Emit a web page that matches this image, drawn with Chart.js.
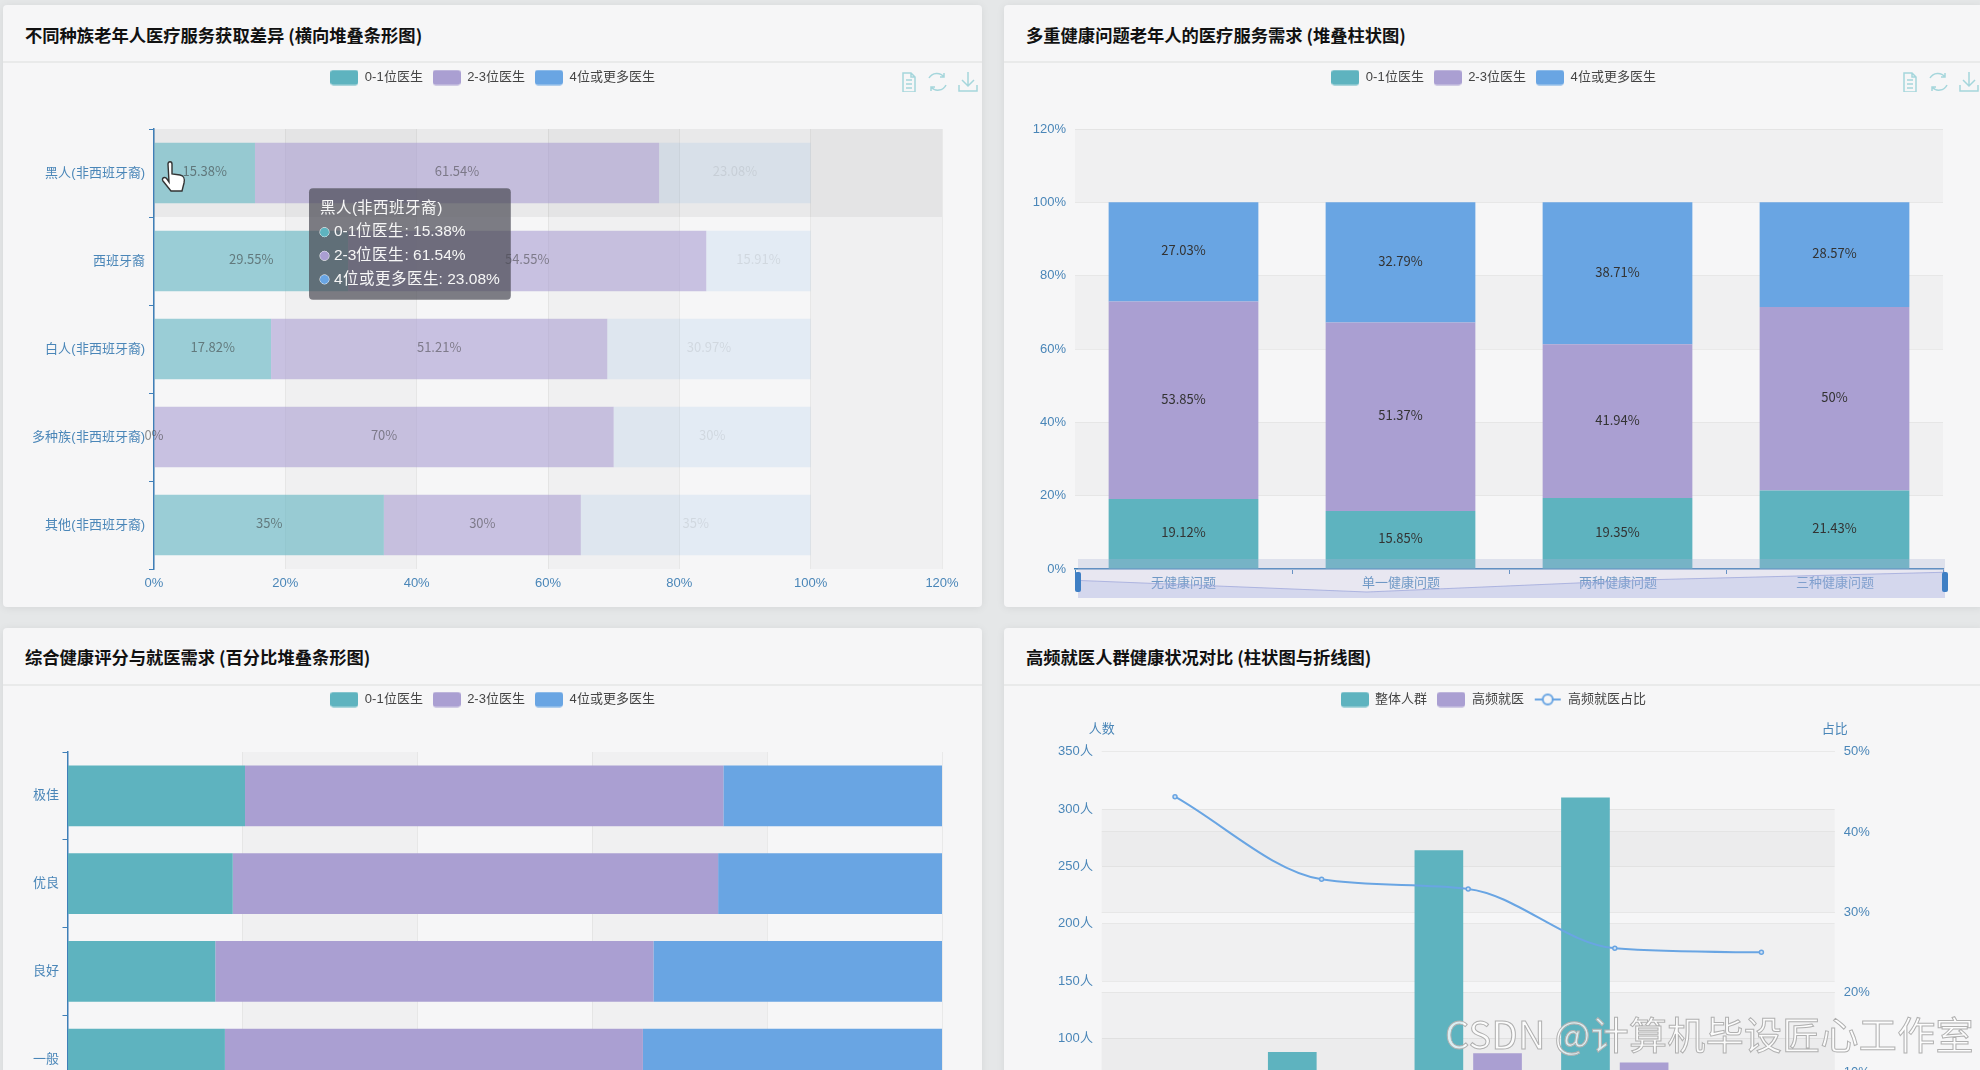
<!DOCTYPE html>
<html lang="zh-CN">
<head>
<meta charset="utf-8">
<title>老年人医疗服务分析</title>
<script src="https://cdn.jsdelivr.net/npm/chart.js@4.4.1/dist/chart.umd.js"></script>
<style>
    html, body { margin: 0; height: 100%; overflow: hidden; background: #e5e7e8; }
    body { position: relative; width: 1980px; height: 1070px; font-family: "Noto Sans CJK SC", sans-serif; }
    .card { position: absolute; width: 979px; height: 602px; background: #f6f6f7; border-radius: 4px; box-shadow: 0 1px 8px rgba(0, 0, 0, 0.07); }
    .card h3 { margin: 0; height: 58px; line-height: 60px; padding-left: 22px; font-size: 17.3px; color: #111; font-weight: 700; border-bottom: 2px solid #e9eaea; box-sizing: border-box; }
    canvas { position: absolute; left: 0; top: 56px; }
    .tools { position: absolute; top: 65px; left: 893px; }
    #hand { position: absolute; left: 160px; top: 161px; }
    #mark { position: absolute; left: 1445px; top: 1008px; font-size: 38px; line-height: 50px; white-space: nowrap; color: rgba(255, 255, 255, 0.78); -webkit-text-stroke: 1px #b0b0b0; letter-spacing: 0.3px; }
</style>
</head>
<body>
<div class="card" style="left:3px;top:5px"><h3>不同种族老年人医疗服务获取差异 (横向堆叠条形图)</h3><canvas id="raceChart" width="979" height="546"></canvas>
    <svg class="tools" width="86" height="22" fill="none" stroke="#a5d6dc" stroke-width="1.5"><path d="M7 3h8l4 4v15H7zM15 3v4h4M10 10h6M10 14h6M10 18h6"/><path d="M33 8a9 9 0 0 1 15-1M50 15a9 9 0 0 1-15 2M48 3v4h-4M35 21v-4h4"/><path d="M72 2v14M66 10l6 6 6-6M63 15v6h18v-6"/></svg></div>
<div class="card" style="left:1004px;top:5px"><h3>多重健康问题老年人的医疗服务需求 (堆叠柱状图)</h3><canvas id="problemChart" width="979" height="546"></canvas>
    <svg class="tools" width="86" height="22" fill="none" stroke="#a5d6dc" stroke-width="1.5"><path d="M7 3h8l4 4v15H7zM15 3v4h4M10 10h6M10 14h6M10 18h6"/><path d="M33 8a9 9 0 0 1 15-1M50 15a9 9 0 0 1-15 2M48 3v4h-4M35 21v-4h4"/><path d="M72 2v14M66 10l6 6 6-6M63 15v6h18v-6"/></svg></div>
<div class="card" style="left:3px;top:628px"><h3 style="line-height:58px">综合健康评分与就医需求 (百分比堆叠条形图)</h3><canvas id="scoreChart" width="979" height="458" style="top:55px"></canvas></div>
<div class="card" style="left:1004px;top:628px"><h3 style="line-height:58px">高频就医人群健康状况对比 (柱状图与折线图)</h3><canvas id="frequentChart" width="979" height="508" style="top:55px"></canvas></div>
<svg id="hand" width="30" height="34" viewBox="0 0 30 34"><path d="M8 3c0-3 4-3 4 0v10l8 1c4 1 5 3 4 8l-2 8H11L3 20c-2-3 2-5 4-2l2 3z" fill="#fff" stroke="#333" stroke-width="1.4"/></svg>
<div id="mark">CSDN @计算机毕设匠心工作室</div>

<script>
// series colours
const teal = "#5eb3bf";
const purple = "#aa9fd2";
const blue = "#69a5e3";
const axisBlue = "#4a86b8";
const axisLine = "#3f7fb8";
const gridColor = "#e9e9e9";

const doctorSeries = ["0-1位医生", "2-3位医生", "4位或更多医生"];
const percentTicks = [0, 20, 40, 60, 80, 100, 120];

// chart 1
const raceLabels = ["黑人(非西班牙裔)", "西班牙裔", "白人(非西班牙裔)", "多种族(非西班牙裔)", "其他(非西班牙裔)"];
const raceLow = [15.38, 29.55, 17.82, 0, 35];
const raceMid = [61.54, 54.55, 51.21, 70, 30];
const raceHigh = [23.08, 15.91, 30.97, 30, 35];

// chart 2
const problemLabels = ["无健康问题", "单一健康问题", "两种健康问题", "三种健康问题"];
const problemLow = [19.12, 15.85, 19.35, 21.43];
const problemMid = [53.85, 51.37, 41.94, 50];
const problemHigh = [27.03, 32.79, 38.71, 28.57];

// chart 3, the picture is cut off after 一般
const scoreLabels = ["极佳", "优良", "良好", "一般"];
const scoreLow = [20.3, 18.9, 16.9, 18.0];
const scoreMid = [54.7, 55.5, 50.1, 47.8];
const scoreHigh = [25.0, 25.6, 33.0, 34.2];

// chart 4, bars below the bottom of the picture are estimates
const healthLabels = ["差", "一般", "良好", "优良", "极佳"];
const totalPeople = [18, 88, 264, 310, 60];
const frequentPeople = [8, 30, 87, 79, 15];
const frequentShare = [44.4, 34.1, 32.9, 25.5, 25];

function swatch(color, isLine) {
    const c = document.createElement("canvas");
    c.width = 28;
    c.height = 16;
    const g = c.getContext("2d");
    if (isLine) {
        g.strokeStyle = color;
        g.lineWidth = 2;
        g.beginPath();
        g.moveTo(1, 8);
        g.lineTo(27, 8);
        g.stroke();
        g.fillStyle = "#f6f6f7";
        g.beginPath();
        g.arc(14, 8, 5, 0, Math.PI * 2);
        g.fill();
        g.stroke();
    } else {
        g.fillStyle = color;
        g.beginPath();
        g.roundRect(0, 0.5, 28, 15, 3);
        g.fill();
    }
    return c;
}

function legendOptions() {
    return {
        position: "top",
        labels: {
            usePointStyle: true,
            pointStyleWidth: 28,
            padding: 10,
            color: "#444",
            font: { size: 13 },
            generateLabels(chart) {
                return chart.data.datasets.map((ds, i) => ({
                    text: ds.label,
                    pointStyle: swatch(ds.legendColor, ds.type === "line"),
                    lineWidth: 0,
                    fontColor: "#444",
                    datasetIndex: i,
                }));
            },
        },
    };
}

// makes room between legend and plot, and keeps the legend centred on the card
const legendGap = (gap, rightPad = 0) => ({
    id: "legendGap",
    beforeInit(chart) {
        const fit = chart.legend.fit;
        chart.legend.fit = function () {
            fit.call(this);
            this.height += gap;
        };
    },
    afterLayout(chart) {
        chart.legend.right += rightPad;
    },
});

// alternating background bands of the value axes
const splitBands = {
    id: "splitBands",
    beforeDatasetsDraw(chart, args, opts) {
        const { ctx, chartArea: area } = chart;
        ctx.save();
        ctx.fillStyle = "rgba(170, 170, 170, 0.07)";
        (opts.axes || []).forEach((id) => {
            const scale = chart.scales[id];
            for (let i = 1; i < scale.ticks.length - 1; i += 2) {
                const a = scale.getPixelForTick(i);
                const b = scale.getPixelForTick(i + 1);
                if (scale.isHorizontal()) {
                    ctx.fillRect(a, area.top, b - a, area.height);
                } else {
                    ctx.fillRect(area.left, b, area.width, a - b);
                }
            }
        });
        if (opts.hoverRow !== undefined) {
            const y = chart.scales.y;
            const band = area.height / y.ticks.length;
            ctx.fillStyle = "rgba(0, 0, 0, 0.05)";
            ctx.fillRect(area.left, y.getPixelForValue(opts.hoverRow) - band / 2, area.width, band);
        }
        ctx.restore();
    },
};

// value labels in the middle of the bars
const barLabels = {
    id: "barLabels",
    afterDatasetsDraw(chart) {
        const { ctx } = chart;
        ctx.save();
        ctx.font = '13px "Noto Sans CJK SC"';
        ctx.textAlign = "center";
        ctx.textBaseline = "middle";
        chart.data.datasets.forEach((ds, i) => {
            if (!ds.labelColor) return;
            ctx.fillStyle = ds.labelColor;
            chart.getDatasetMeta(i).data.forEach((bar, j) => {
                const p = bar.getCenterPoint();
                ctx.fillText(ds.data[j] + "%", p.x, p.y - 1.5);
            });
        });
        ctx.restore();
    },
};

// the data zoom strip over the bottom of chart 2
const zoomStrip = {
    id: "zoomStrip",
    afterDraw(chart) {
        const { ctx, chartArea: area } = chart;
        const left = area.left + 3;
        const right = area.right + 2;
        const top = area.bottom;
        const bottom = area.bottom + 29;
        const low = Math.min(...problemLow);
        ctx.save();
        ctx.fillStyle = "rgba(170, 180, 215, 0.32)";
        ctx.fillRect(left, top - 10, right - left, 10);
        ctx.fillStyle = "rgba(200, 195, 228, 0.3)";
        ctx.fillRect(left, top, right - left, bottom - top);
        ctx.fillStyle = "rgba(165, 175, 225, 0.3)";
        ctx.strokeStyle = "rgba(150, 160, 215, 0.7)";
        ctx.beginPath();
        problemLow.forEach((v, i) => {
            const x = left + ((right - left) * i) / (problemLow.length - 1);
            const y = bottom - 6 - (v - low) * 3.54;
            if (i === 0) ctx.moveTo(x, y);
            else ctx.lineTo(x, y);
        });
        ctx.stroke();
        ctx.lineTo(right, bottom);
        ctx.lineTo(left, bottom);
        ctx.closePath();
        ctx.fill();
        ctx.fillStyle = "#3f7fc4";
        [left, right].forEach((x) => {
            ctx.beginPath();
            ctx.roundRect(x - 3, top + 3, 6, 20, 2);
            ctx.fill();
        });
        ctx.restore();
    },
};

// axis names above the two y axes of chart 4
const axisNames = {
    id: "axisNames",
    afterDraw(chart) {
        const { ctx, chartArea: area } = chart;
        ctx.save();
        ctx.font = '13px "Noto Sans CJK SC"';
        ctx.fillStyle = axisBlue;
        ctx.textAlign = "center";
        ctx.textBaseline = "middle";
        ctx.fillText("人数", area.left, area.top - 24);
        ctx.fillText("占比", area.right, area.top - 24);
        ctx.restore();
    },
};

Chart.Tooltip.positioners.raceSpot = () => ({ x: 306, y: 183 });

function tickFont() {
    return { color: axisBlue, font: { size: 13 } };
}

function categoryAxis(width) {
    return {
        type: "category",
        offset: true,
        stacked: true,
        afterFit(scale) {
            scale.width = width;
        },
        border: { display: true, color: axisLine, width: 1.5 },
        grid: { offset: true, drawOnChartArea: false, color: axisLine, tickLength: 5 },
        ticks: { ...tickFont(), padding: 4, autoSkip: false },
    };
}

function percentAxis(max) {
    return {
        type: "linear",
        min: 0,
        max: max,
        stacked: true,
        afterBuildTicks(scale) {
            scale.ticks = percentTicks.filter((v) => v <= max).map((v) => ({ value: v }));
        },
        afterFit(scale) {
            scale.height = 38;
        },
        border: { display: false },
        grid: { color: gridColor, drawTicks: false },
        ticks: { ...tickFont(), padding: 7, maxRotation: 0, callback: (v) => v + "%" },
    };
}

function stackDatasets(low, mid, high, alpha, labelColors) {
    const solid = [teal, purple, blue];
    return [low, mid, high].map((values, i) => ({
        label: doctorSeries[i],
        data: values,
        legendColor: solid[i],
        backgroundColor: solid[i] + alpha[i],
        labelColor: labelColors ? labelColors[i] : null,
        categoryPercentage: 1,
        barPercentage: 0.69,
    }));
}

const baseOptions = {
    responsive: false,
    animation: false,
    devicePixelRatio: 1,
};

document.addEventListener("DOMContentLoaded", function () {
    const raceChart = new Chart(document.getElementById("raceChart"), {
        type: "bar",
        data: {
            labels: raceLabels,
            datasets: stackDatasets(raceLow, raceMid, raceHigh, ["99", "99", "22"], [
                "rgba(51, 51, 51, 0.55)",
                "rgba(51, 51, 51, 0.5)",
                "rgba(51, 51, 51, 0.1)",
            ]),
        },
        options: {
            ...baseOptions,
            indexAxis: "y",
            layout: { padding: { right: 40 } },
            scales: { x: percentAxis(120), y: categoryAxis(151) },
            plugins: {
                legend: legendOptions(),
                splitBands: { axes: ["x"], hoverRow: 0 },
                tooltip: {
                    enabled: true,
                    position: "raceSpot",
                    xAlign: "left",
                    yAlign: "center",
                    caretSize: 0,
                    caretPadding: 0,
                    cornerRadius: 4,
                    padding: 11,
                    backgroundColor: "rgba(73, 73, 83, 0.7)",
                    titleColor: "#f6f6f6",
                    bodyColor: "#f6f6f6",
                    titleFont: { size: 15.5, weight: "normal" },
                    bodyFont: { size: 15.5 },
                    bodySpacing: 5,
                    titleMarginBottom: 5,
                    usePointStyle: true,
                    boxWidth: 9,
                    boxHeight: 9,
                    boxPadding: 3,
                    callbacks: {
                        label: (item) => item.dataset.label + ": " + item.raw + "%",
                        labelColor: (item) => ({
                            borderColor: "transparent",
                            backgroundColor: item.dataset.legendColor,
                        }),
                        labelPointStyle: () => ({ pointStyle: "circle", rotation: 0 }),
                    },
                },
            },
        },
        plugins: [legendGap(35, 40), splitBands, barLabels],
    });
    raceChart.tooltip.setActiveElements(
        [0, 1, 2].map((i) => ({ datasetIndex: i, index: 0 })),
        { x: 170, y: 120 }
    );
    raceChart.update();

    new Chart(document.getElementById("problemChart"), {
        type: "bar",
        data: {
            labels: problemLabels,
            datasets: stackDatasets(problemLow, problemMid, problemHigh, ["", "", ""], ["#333", "#333", "#333"]),
        },
        options: {
            ...baseOptions,
            layout: { padding: { right: 40 } },
            scales: {
                x: {
                    stacked: true,
                    afterFit(scale) {
                        scale.height = 38;
                    },
                    border: { display: true, color: axisLine, width: 1.5 },
                    grid: { offset: true, drawOnChartArea: false, color: axisLine, tickLength: 5 },
                    ticks: { ...tickFont(), padding: 2 },
                },
                y: {
                    min: 0,
                    max: 120,
                    stacked: true,
                    afterBuildTicks(scale) {
                        scale.ticks = percentTicks.map((v) => ({ value: v }));
                    },
                    afterFit(scale) {
                        scale.width = 71;
                    },
                    border: { display: false },
                    grid: { color: gridColor, drawTicks: false },
                    ticks: { ...tickFont(), padding: 9, callback: (v) => v + "%" },
                },
            },
            plugins: {
                legend: legendOptions(),
                tooltip: { enabled: false },
                splitBands: { axes: ["y"] },
            },
        },
        plugins: [legendGap(35, 40), splitBands, barLabels, zoomStrip],
    });

    new Chart(document.getElementById("scoreChart"), {
        type: "bar",
        data: {
            labels: scoreLabels,
            datasets: stackDatasets(scoreLow, scoreMid, scoreHigh, ["", "", ""]),
        },
        options: {
            ...baseOptions,
            indexAxis: "y",
            layout: { padding: { right: 40 } },
            scales: { x: percentAxis(100), y: categoryAxis(64.5) },
            plugins: {
                legend: legendOptions(),
                tooltip: { enabled: false },
                splitBands: { axes: ["x"] },
            },
        },
        plugins: [legendGap(36, 40), splitBands],
    });

    new Chart(document.getElementById("frequentChart"), {
        data: {
            labels: healthLabels,
            datasets: [
                {
                    type: "bar",
                    label: "整体人群",
                    data: totalPeople,
                    yAxisID: "y",
                    order: 1,
                    legendColor: teal,
                    backgroundColor: teal,
                    categoryPercentage: 0.8,
                    barPercentage: 0.83,
                },
                {
                    type: "bar",
                    label: "高频就医",
                    data: frequentPeople,
                    yAxisID: "y",
                    order: 1,
                    legendColor: purple,
                    backgroundColor: purple,
                    categoryPercentage: 0.8,
                    barPercentage: 0.83,
                },
                {
                    type: "line",
                    label: "高频就医占比",
                    data: frequentShare,
                    yAxisID: "y1",
                    order: 0,
                    legendColor: blue,
                    borderColor: blue,
                    borderWidth: 2,
                    cubicInterpolationMode: "monotone",
                    pointRadius: 2,
                    pointBackgroundColor: "#cfe0f3",
                    pointBorderColor: blue,
                    pointBorderWidth: 1.5,
                },
            ],
        },
        options: {
            ...baseOptions,
            scales: {
                x: {
                    afterFit(scale) {
                        scale.height = 38;
                    },
                    border: { display: true, color: axisLine, width: 1.5 },
                    grid: { offset: true, drawOnChartArea: false, color: axisLine, tickLength: 5 },
                    ticks: { ...tickFont(), padding: 2 },
                },
                y: {
                    position: "left",
                    min: 0,
                    max: 350,
                    afterFit(scale) {
                        scale.width = 97.7;
                    },
                    border: { display: false },
                    grid: { color: gridColor, drawTicks: false },
                    ticks: { ...tickFont(), padding: 9, stepSize: 50, callback: (v) => v + "人" },
                },
                y1: {
                    position: "right",
                    min: 0,
                    max: 50,
                    afterFit(scale) {
                        scale.width = 148.3;
                    },
                    border: { display: false },
                    grid: { color: gridColor, drawTicks: false },
                    ticks: { ...tickFont(), padding: 9, stepSize: 10, callback: (v) => v + "%" },
                },
            },
            plugins: {
                legend: legendOptions(),
                tooltip: { enabled: false },
                splitBands: { axes: ["y", "y1"] },
            },
        },
        plugins: [legendGap(35.7), splitBands, axisNames],
    });
});
</script>
</body>
</html>
